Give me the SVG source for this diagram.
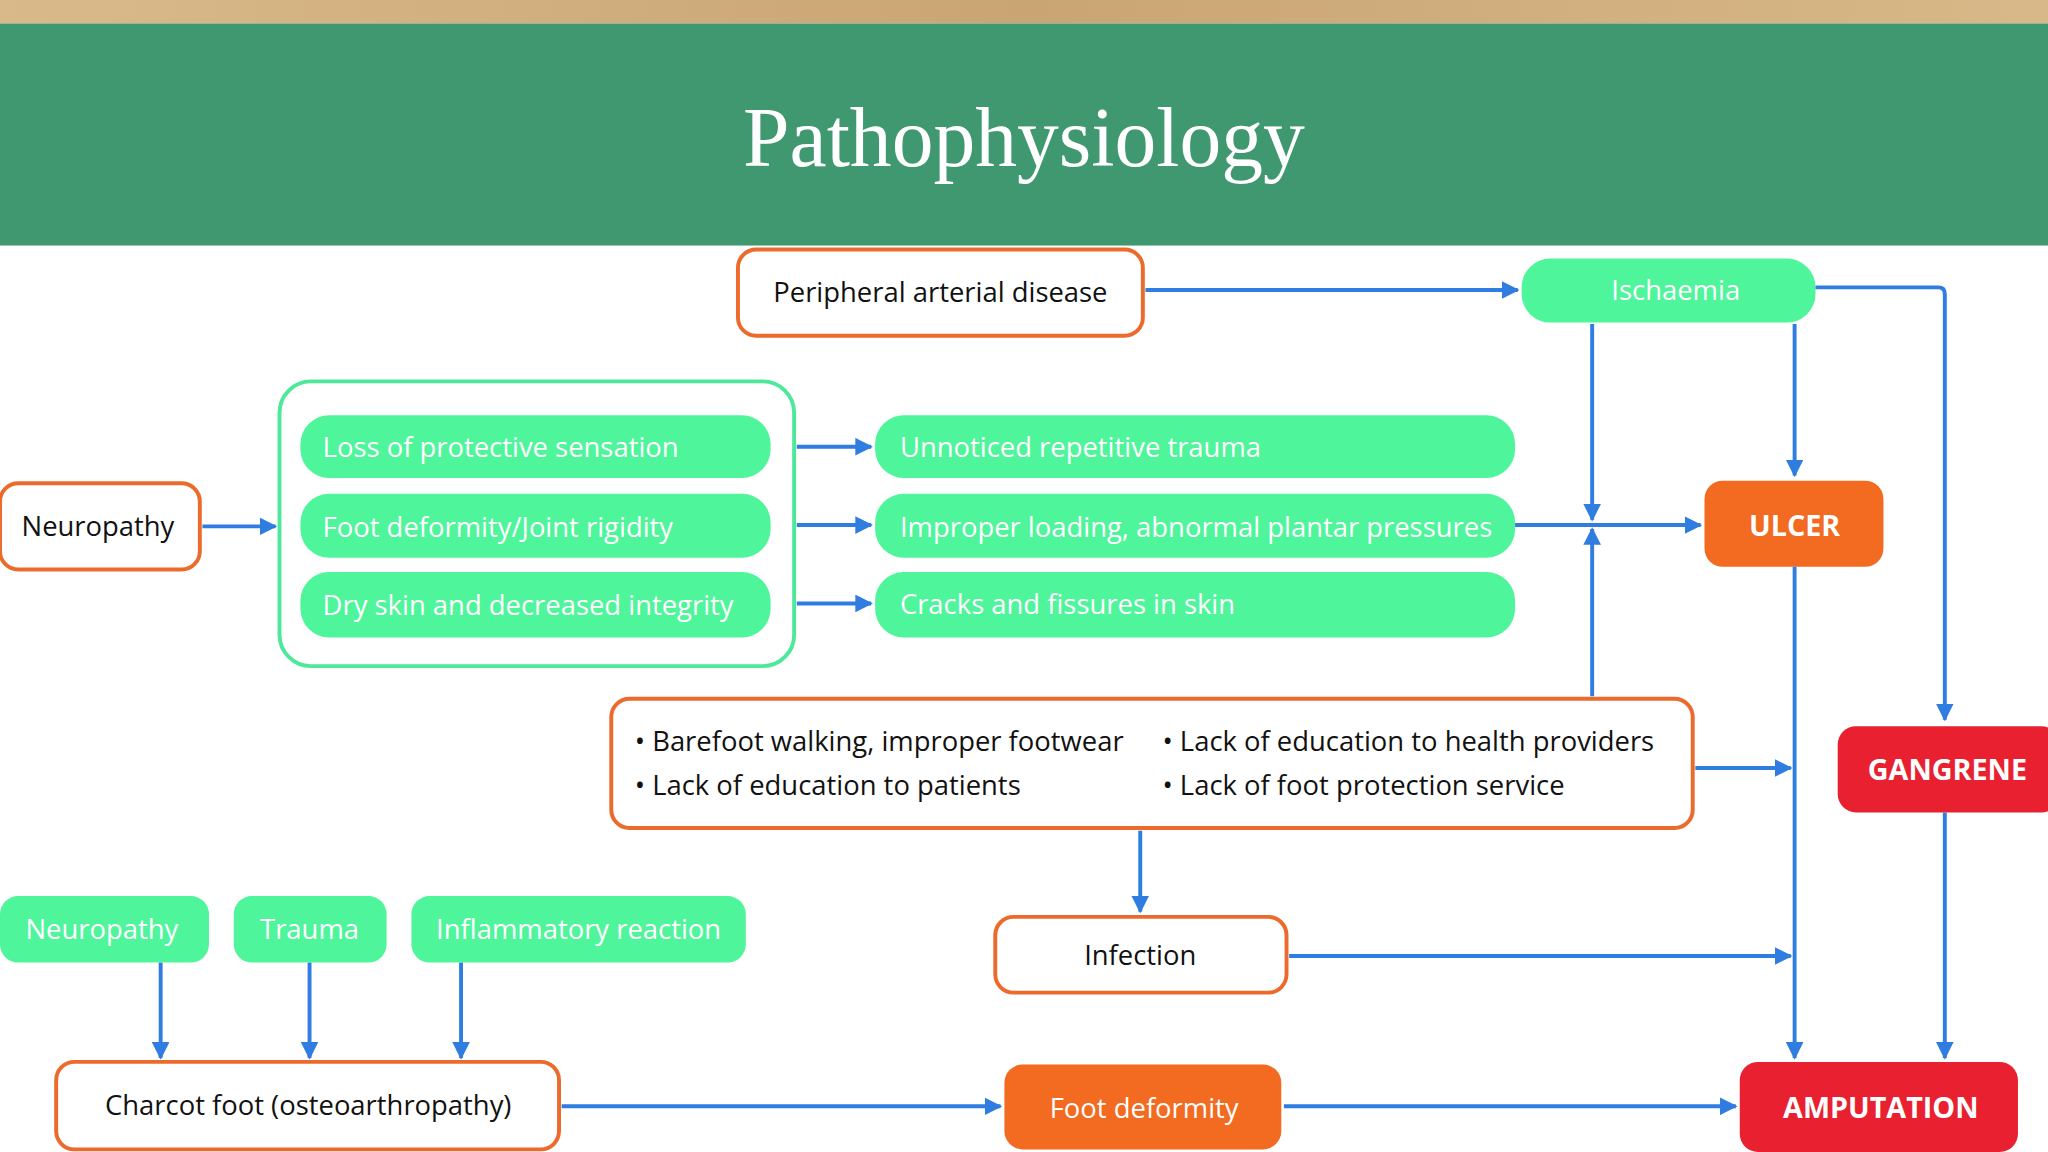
<svg xmlns="http://www.w3.org/2000/svg" width="2048" height="1152" viewBox="0 0 2048 1152">
<defs>
<linearGradient id="wood" x1="0" y1="0" x2="1" y2="0"><stop offset="0" stop-color="#d9b98a"/><stop offset="0.5" stop-color="#caa574"/><stop offset="1" stop-color="#d8b888"/></linearGradient>
<marker id="ah" viewBox="0 0 10 10" refX="9" refY="5" markerWidth="4.5" markerHeight="4.5" markerUnits="strokeWidth" orient="auto"><path d="M0,0 L10,5 L0,10 z" fill="#2f7de0"/></marker>
</defs>
<style>
.w{fill:#fff;stroke:#ec6a2c;stroke-width:3}
.g{fill:#4ff59b}
.o{fill:#f36a21}
.r{fill:#e8202f}
.t{font-family:"Open Sans","Liberation Sans",sans-serif;font-size:21px;fill:#111}
.tw{font-family:"Open Sans","Liberation Sans",sans-serif;font-size:21px;fill:#fff}
.tb{font-family:"Open Sans","Liberation Sans",sans-serif;font-size:22px;font-weight:bold;fill:#fff}
.c line,.c path{stroke:#2f7de0;stroke-width:3;fill:none}
</style>
<rect width="2048" height="1152" fill="#fff"/>
<g transform="scale(1.30612)">
<rect x="0" y="0" width="1568" height="18" fill="url(#wood)"/>
<rect x="0" y="18" width="1568" height="170" fill="#3f9870"/>
<text x="784" y="127" text-anchor="middle" font-family="Liberation Serif,serif" font-size="64" fill="#fff">Pathophysiology</text>

<g id="pad"><rect class="w" x="565" y="191" width="310" height="66" rx="14"/><text class="t" x="720" y="231" text-anchor="middle">Peripheral arterial disease</text></g>
<g id="ischaemia"><rect class="g" x="1165" y="198" width="225" height="49" rx="22"/><text class="tw" x="1283" y="230" text-anchor="middle">Ischaemia</text></g>
<g id="group"><rect x="214" y="292" width="394" height="218" rx="24" fill="#fff" stroke="#4ee89a" stroke-width="3"/>
<rect class="g" x="230" y="318" width="360" height="48" rx="22"/><text class="tw" x="247" y="350">Loss of protective sensation</text>
<rect class="g" x="230" y="378" width="360" height="49" rx="22"/><text class="tw" x="247" y="411">Foot deformity/Joint rigidity</text>
<rect class="g" x="230" y="438" width="360" height="50" rx="22"/><text class="tw" x="247" y="471">Dry skin and decreased integrity</text></g>
<g id="trauma1"><rect class="g" x="670" y="318" width="490" height="48" rx="22"/><text class="tw" x="689" y="350">Unnoticed repetitive trauma</text></g>
<g id="loading"><rect class="g" x="670" y="378" width="490" height="49" rx="22"/><text class="tw" x="689" y="411">Improper loading, abnormal plantar pressures</text></g>
<g id="cracks"><rect class="g" x="670" y="438" width="490" height="50" rx="22"/><text class="tw" x="689" y="470">Cracks and fissures in skin</text></g>
<g id="neuro1"><rect class="w" x="0" y="370" width="153" height="66" rx="14"/><text class="t" x="75" y="410" text-anchor="middle">Neuropathy</text></g>
<g id="ulcer"><rect class="o" x="1305" y="368" width="137" height="66" rx="14"/><text class="tb" x="1374" y="410" text-anchor="middle">ULCER</text></g>
<g id="gangrene"><rect class="r" x="1407" y="556" width="170" height="66" rx="14"/><text class="tb" x="1491" y="597" text-anchor="middle">GANGRENE</text></g>
<g id="risk"><rect class="w" x="468" y="535" width="828" height="99" rx="14"/>
<text class="t" x="486" y="575">• Barefoot walking, improper footwear</text>
<text class="t" x="486" y="609">• Lack of education to patients</text>
<text class="t" x="890" y="575">• Lack of education to health providers</text>
<text class="t" x="890" y="609">• Lack of foot protection service</text></g>
<g id="infection"><rect class="w" x="762" y="702" width="223" height="58" rx="14"/><text class="t" x="873" y="739" text-anchor="middle">Infection</text></g>
<g id="neuro2"><rect class="g" x="0" y="686" width="160" height="51" rx="14"/><text class="tw" x="78" y="719" text-anchor="middle">Neuropathy</text></g>
<g id="trauma"><rect class="g" x="179" y="686" width="117" height="51" rx="14"/><text class="tw" x="237" y="719" text-anchor="middle">Trauma</text></g>
<g id="inflam"><rect class="g" x="315" y="686" width="256" height="51" rx="14"/><text class="tw" x="443" y="719" text-anchor="middle">Inflammatory reaction</text></g>
<g id="charcot"><rect class="w" x="43" y="813" width="385" height="67" rx="14"/><text class="t" x="236" y="854" text-anchor="middle">Charcot foot (osteoarthropathy)</text></g>
<g id="deformity"><rect class="o" x="769" y="815" width="212" height="65" rx="14"/><text class="tw" x="876" y="856" text-anchor="middle">Foot deformity</text></g>
<g id="amputation"><rect class="r" x="1332" y="813" width="213" height="69" rx="14"/><text class="tb" x="1440" y="856" text-anchor="middle">AMPUTATION</text></g>

<g class="c" id="connectors">
<line x1="877" y1="222" x2="1162" y2="222" marker-end="url(#ah)"/>
<line x1="155" y1="403" x2="211" y2="403" marker-end="url(#ah)"/>
<line x1="610" y1="342" x2="667" y2="342" marker-end="url(#ah)"/>
<line x1="610" y1="402" x2="667" y2="402" marker-end="url(#ah)"/>
<line x1="610" y1="462" x2="667" y2="462" marker-end="url(#ah)"/>
<line x1="1160" y1="402" x2="1302" y2="402" marker-end="url(#ah)"/>
<line x1="1219" y1="248" x2="1219" y2="398" marker-end="url(#ah)"/>
<line x1="1219" y1="533" x2="1219" y2="405" marker-end="url(#ah)"/>
<line x1="1374" y1="248" x2="1374" y2="364" marker-end="url(#ah)"/>
<path d="M1390,220 H1484 Q1489,220 1489,225 V551" marker-end="url(#ah)"/>
<line x1="1298" y1="588" x2="1371" y2="588" marker-end="url(#ah)"/>
<line x1="1374" y1="434" x2="1374" y2="810" marker-end="url(#ah)"/>
<line x1="873" y1="636" x2="873" y2="698" marker-end="url(#ah)"/>
<line x1="987" y1="732" x2="1371" y2="732" marker-end="url(#ah)"/>
<line x1="1489" y1="622" x2="1489" y2="810" marker-end="url(#ah)"/>
<line x1="123" y1="737" x2="123" y2="810" marker-end="url(#ah)"/>
<line x1="237" y1="737" x2="237" y2="810" marker-end="url(#ah)"/>
<line x1="353" y1="737" x2="353" y2="810" marker-end="url(#ah)"/>
<line x1="430" y1="847" x2="766" y2="847" marker-end="url(#ah)"/>
<line x1="983" y1="847" x2="1329" y2="847" marker-end="url(#ah)"/>
</g>
</g>
</svg>
